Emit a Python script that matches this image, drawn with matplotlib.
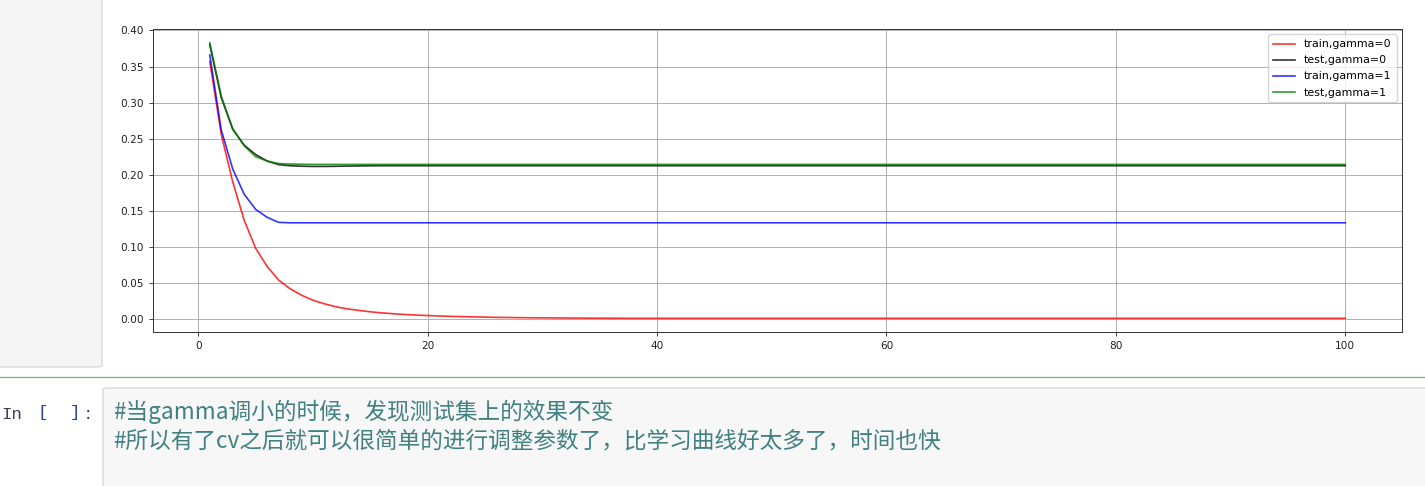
import matplotlib
matplotlib.use('Agg')
import matplotlib.pyplot as plt
import matplotlib.patches as patches

# datos
gammas_x = list(range(1, 101))

train_g0 = [0.357, 0.256, 0.190, 0.137, 0.098, 0.073, 0.054, 0.042, 0.033, 0.026,
            0.021, 0.017, 0.014, 0.012, 0.010, 0.0085, 0.0073, 0.0063, 0.0055, 0.0048,
            0.0042, 0.0037, 0.0033, 0.0029, 0.0026, 0.0023, 0.0021, 0.0019, 0.0017, 0.0016,
            0.0015, 0.0014, 0.0013, 0.0012, 0.0012, 0.0011, 0.0011, 0.0010, 0.0010, 0.0010] + [0.0010] * 60
test_g0 = [0.380, 0.307, 0.263, 0.241, 0.228, 0.219, 0.214, 0.2125, 0.2118, 0.2115,
           0.2115, 0.2117, 0.2120, 0.2122, 0.2124] + [0.2125] * 85
train_g1 = [0.366, 0.262, 0.208, 0.173, 0.152, 0.141, 0.134] + [0.1334] * 93
test_g1 = [0.383, 0.309, 0.264, 0.240, 0.225, 0.219, 0.2155, 0.2148, 0.2145] + [0.2143] * 91

labels = ["train,gamma=0", "test,gamma=0", "train,gamma=1", "test,gamma=1"]
colores = ['r', 'k', 'b', 'g']

W, H = 1425, 486
fig = plt.figure(figsize=(W / 100, H / 100), dpi=100)
fig.patch.set_facecolor('white')

def fx(x):
    return x / W

def fy(y):
    return 1 - y / H

# caja gris de la izquierda (area de salida)
caja = patches.FancyBboxPatch((fx(-10), fy(367)), fx(112), fy(-10) - fy(367),
                              boxstyle="round,pad=0,rounding_size=0.004",
                              transform=fig.transFigure, facecolor='#f5f5f5',
                              edgecolor='#cfcfcf', linewidth=0.8)
fig.patches.append(caja)

# linea verde de separacion
fig.add_artist(plt.Line2D([0, 1], [fy(377), fy(377)], transform=fig.transFigure,
                          color='#66bb6a', linewidth=0.9))

# celda de entrada
celda = patches.FancyBboxPatch((fx(103), fy(495)), fx(1340), fy(388) - fy(495),
                               boxstyle="round,pad=0,rounding_size=0.003",
                               transform=fig.transFigure, facecolor='#f7f7f7',
                               edgecolor='#cfcfcf', linewidth=0.8)
fig.patches.append(celda)

# prompt
fig.text(fx(1), fy(414), "In", ha='left', va='center', fontsize=12.5,
         family='Liberation Mono', color='#3d3d5c')
fig.text(fx(43), fy(413), "[", ha='center', va='center', fontsize=12.5,
         family='Liberation Mono', color='#303f9f')
fig.text(fx(75), fy(413), "]", ha='center', va='center', fontsize=12.5,
         family='Liberation Mono', color='#303f9f')
fig.text(fx(87.5), fy(414), ":", ha='center', va='center', fontsize=12.5,
         family='Liberation Mono', color='#303f9f')

# comentarios
fig.text(fx(113), fy(412), "#当gamma调小的时候，发现测试集上的效果不变", ha='left', va='center',
         fontsize=16.3, family=['Noto Sans CJK SC', 'DejaVu Sans'], color='#408080', style='italic')
fig.text(fx(113), fy(441), "#所以有了cv之后就可以很简单的进行调整参数了，比学习曲线好太多了，时间也快",
         ha='left', va='center', fontsize=16.3, family=['Noto Sans CJK SC', 'DejaVu Sans'],
         color='#408080', style='italic')

# grafica
ax = fig.add_axes([fx(153), fy(332), fx(1402) - fx(153), fy(29) - fy(332)])
series = [train_g0, test_g0, train_g1, test_g1]
for valores, lab, col in zip(series, labels, colores):
    ax.plot(gammas_x, valores, color=col, alpha=0.8, linewidth=1.2, label=lab)

ax.set_xlim(-3.95, 104.95)
ax.set_ylim(-0.018, 0.402)
ax.set_xticks([0, 20, 40, 60, 80, 100])
ax.set_yticks([0.00, 0.05, 0.10, 0.15, 0.20, 0.25, 0.30, 0.35, 0.40])
ax.set_yticklabels(["0.00", "0.05", "0.10", "0.15", "0.20", "0.25", "0.30", "0.35", "0.40"])
ax.tick_params(labelsize=7.6, length=3, width=0.6, colors='#222222')
ax.grid(True, color='#b0b0b0', linewidth=0.7)
for s in ax.spines.values():
    s.set_linewidth(0.7)
    s.set_color('#333333')
ax.legend(loc='upper right', fontsize=7.9, framealpha=0.8, edgecolor='#cccccc',
          handlelength=2.0, borderpad=0.45, labelspacing=0.55)

fig.savefig('out.png', dpi=100)
